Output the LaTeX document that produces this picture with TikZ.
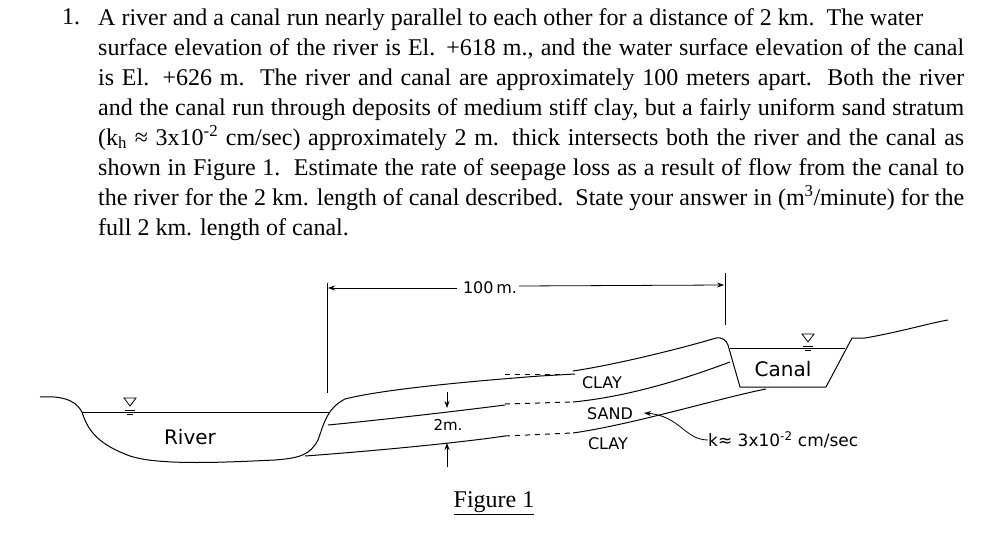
\documentclass[tikz,border=0pt]{standalone}
\usepackage{fontspec}
\setmainfont{Liberation Serif}
\newfontfamily\hand{DejaVu Sans}
\usetikzlibrary{arrows.meta}
\begin{document}
\begin{tikzpicture}[x=1pt,y=-1pt,
  ln/.style={line width=1pt,line join=round},
  dsh/.style={line width=1pt,dash pattern=on 5pt off 5pt},
  lbl/.style={font=\hand\fontsize{20}{22}\selectfont,inner sep=0},
  arr/.style={-{Stealth[length=7pt,width=5pt]},line width=0.8pt}]
\useasboundingbox (0,0) rectangle (1006,553);
\node[anchor=north west,inner sep=0,font=\fontsize{24}{30}\selectfont] (num) at (62,8) {1.};
\node[anchor=north west,inner sep=0,text width=866pt,align=justify,font=\fontsize{24}{30}\selectfont] (txt) at (98,8)
{A river and a canal run nearly parallel to each other for a distance of 2 km.\ \ The water\\
surface elevation of the river is El. +618 m., and the water surface elevation of the canal\linebreak
is El. +626 m.\ \ The river and canal are approximately 100 meters apart.\ \ Both the river\linebreak
and the canal run through deposits of medium stiff clay, but a fairly uniform sand stratum\linebreak
(k\textsubscript{h} ≈ 3x10\textsuperscript{-2} cm/sec) approximately 2 m. thick intersects both the river and the canal as\linebreak
shown in Figure 1.\ \ Estimate the rate of seepage loss as a result of flow from the canal to\linebreak
the river for the 2 km. length of canal described.\ \ State your answer in (m\textsuperscript{3}/minute) for the\linebreak
full 2 km. length of canal.};
% river
\draw[ln] (40,397) .. controls (70,395) and (78,405) .. (82,412) .. controls (88,432) and (100,445) .. (130,456) .. controls (160,466) and (230,462) .. (275,460) .. controls (300,458) and (310,455) .. (318,440) .. controls (325,420) and (328,408) .. (345,399) .. controls (380,390) and (460,382) .. (540,376) -- (575,374);
\draw[ln] (82,412) -- (330,412);
\draw[ln] (573,371) .. controls (620,364) and (690,346) .. (716,338) .. controls (722,337) and (726,340) .. (728,345) -- (740,387) -- (826,387) -- (852,338) -- (865,338) .. controls (900,332) and (930,323) .. (948,320);
\draw[ln] (730,348) -- (845,348);
% sand layer
\draw[ln] (328,425) .. controls (380,420) and (450,412) .. (505,405);
\draw[ln] (573,402) .. controls (635,396) and (695,375) .. (730,362);
\draw[ln] (305,456) .. controls (360,452) and (450,444) .. (505,436);
\draw[ln] (573,433) .. controls (635,424) and (720,398) .. (766,389);
\draw[dsh] (505,374) -- (572,374);
\draw[dsh] (505,404) -- (572,402);
\draw[dsh] (505,436) -- (572,433);
% dimension
\coordinate (d1) at (327,283); \coordinate (d2) at (327,393);
\draw[line width=0.8pt] (d1) -- (d2);
\draw[line width=0.8pt] (725,273) -- (725,325);
\node[lbl,font=\hand\fontsize{16}{18}\selectfont] (hm) at (490,288) {100\,m.};
\draw[arr] (hm.west) ++(-6,0) -- (328,288);
\draw[arr] (hm.east) ++(2,-2) -- (724,285);
% 2m
\node[lbl,font=\hand\fontsize{15}{17}\selectfont] (two) at (448,425) {2m.};
\draw[arr] (447,392) -- (447,408);
\draw[arr] (447,467) -- (447,443);
% water symbols
\foreach \px/\py in {130/404,808/340}{
  \draw[line width=0.8pt] (\px-6,\py-6) -- (\px+6,\py-6) -- (\px,\py+2) -- cycle;
  \draw[line width=0.8pt] (\px-5,\py+6) -- (\px+5,\py+6);
  \draw[line width=0.8pt] (\px-3,\py+10) -- (\px+3,\py+10);}
\node[lbl] (riv) at (190,437) {River};
\node[lbl,font=\hand\fontsize{16}{18}\selectfont] (c1) at (602,383) {CLAY};
\node[lbl,font=\hand\fontsize{16}{18}\selectfont] (sand) at (610,414) {SAND};
\node[lbl,font=\hand\fontsize{16}{18}\selectfont] (c2) at (608,444) {CLAY};
\node[lbl] (can) at (783,369) {Canal};
\node[lbl,anchor=west,font=\hand\fontsize{17}{19}\selectfont] (k) at (708,440) {k≈ 3x10\textsuperscript{-2} cm/sec};
\draw[arr] (k.west) .. controls (685,440) and (680,416) .. (644,413);
\node[inner sep=0,font=\fontsize{24}{28}\selectfont] (fig) at (494,503) {\underline{Figure 1}};
\end{tikzpicture}
\end{document}
